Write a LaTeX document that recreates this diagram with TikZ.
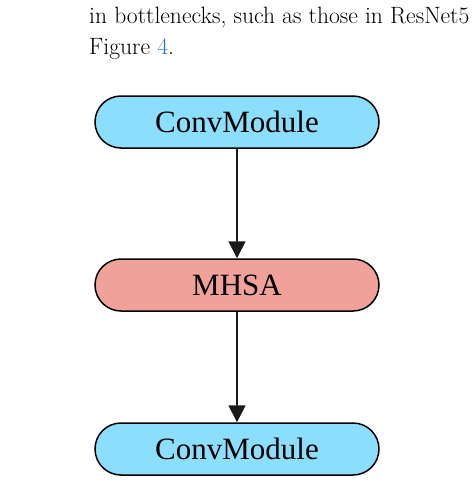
\documentclass[tikz,border=0pt]{standalone}
\usepackage{fontspec}
\newfontfamily\tms{Liberation Serif}
\usetikzlibrary{arrows.meta,shapes.misc}
\definecolor{convblue}{RGB}{140,223,252}
\definecolor{mhsared}{RGB}{240,162,154}
\definecolor{linkblue}{RGB}{40,120,190}
\tikzset{
  modbox/.style={draw=black, line width=1.5pt, rounded rectangle, minimum width=284pt, minimum height=52pt, inner sep=0pt, font=\tms\fontsize{31}{31}\selectfont, text=black},
  conn/.style={draw=black!90, line width=1.8pt, -{Triangle[length=17pt,width=17pt]}},
  hdr/.style={anchor=base west, inner sep=0pt, font=\fontsize{23.6}{23.6}\selectfont, text=black}
}
\begin{document}
\begin{tikzpicture}[x=1pt,y=-1pt]
\useasboundingbox (0,0) rectangle (474,491);
\node[hdr] (l1) at (89,23) {in bottlenecks, such as those in ResNet5};
\node[hdr] (l2) at (89,54) {Figure \textcolor{linkblue}{4}.};
\node[modbox, fill=convblue] (c1) at (237,122) {ConvModule};
\node[modbox, fill=mhsared] (m) at (237,285) {MHSA};
\node[modbox, fill=convblue] (c2) at (237,449) {ConvModule};
\draw[conn] (c1) -- (m);
\draw[conn] (m) -- (c2);
\end{tikzpicture}
\end{document}
